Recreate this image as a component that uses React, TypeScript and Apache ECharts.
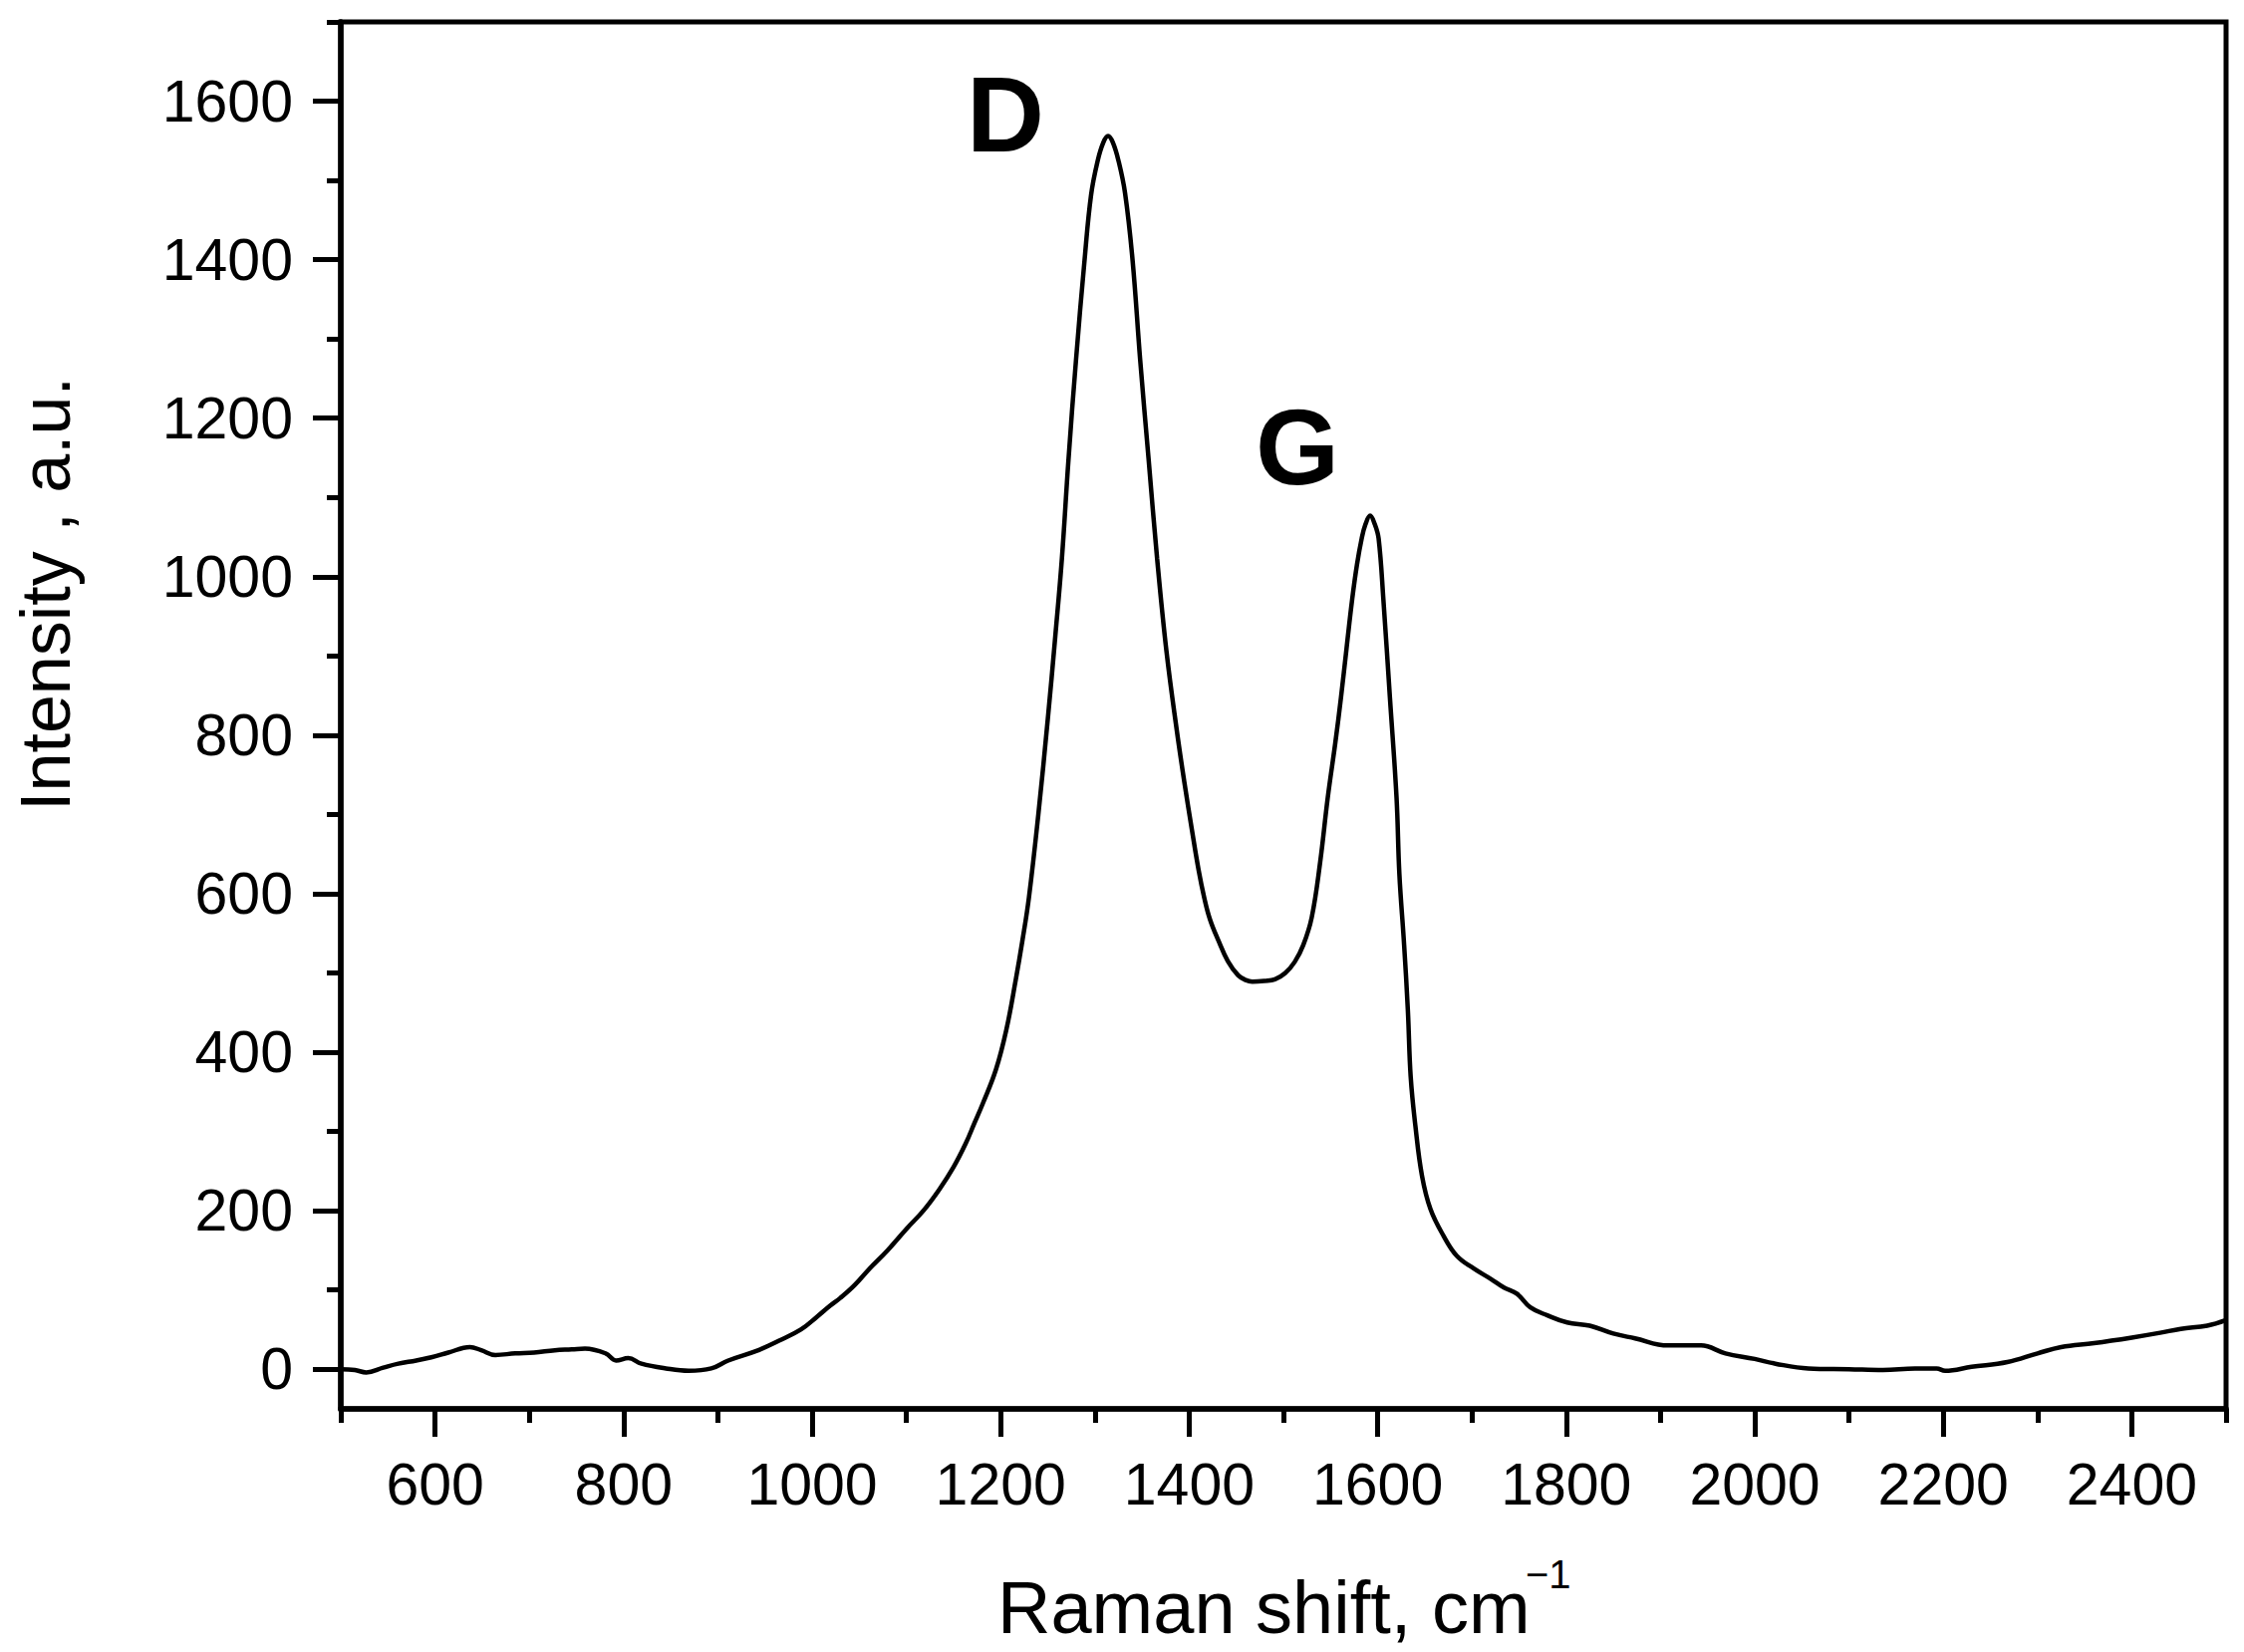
import React, { useEffect, useRef } from "react";
import * as echarts from "echarts";

// Raman shift (cm^-1)
const ramanShift = [
  500, 515, 527, 545, 561, 580, 596, 614, 637, 649, 664, 685, 705, 727, 745, 759,
  781, 792, 805, 819, 845, 869, 893, 911, 943, 965, 988, 1005, 1019, 1030, 1045,
  1061, 1080, 1100, 1118, 1135, 1150, 1163, 1172, 1181, 1195, 1206, 1216, 1223,
  1230, 1240, 1250, 1258, 1265, 1272, 1280, 1289, 1296, 1303, 1309, 1314, 1319,
  1325, 1332, 1340, 1348, 1357, 1366, 1376, 1387, 1395, 1403, 1410, 1416, 1422,
  1431, 1441, 1452, 1460, 1467, 1480, 1491, 1502, 1512, 1521, 1530, 1539, 1547,
  1555, 1561, 1567, 1573, 1578, 1583, 1587, 1592, 1597, 1601, 1606, 1613, 1620,
  1623, 1628, 1632, 1635, 1640, 1647, 1656, 1670, 1684, 1702, 1720, 1734, 1748,
  1762, 1780, 1801, 1825, 1850, 1873, 1908, 1943, 1969, 2000, 2022, 2057, 2100,
  2136, 2170, 2193, 2202, 2230, 2268, 2300, 2325, 2360, 2400, 2430, 2452, 2480,
  2500,
];
// Intensity (a.u.)
const intensity = [
  0, -1, -4, 2, 7, 11, 15, 21, 28, 24, 18, 20, 21, 24, 25, 26,
  20, 11, 14, 7, 1, -2, 1, 11, 24, 36, 50, 66, 80, 90, 106,
  127, 150, 177, 200, 227, 255, 285, 310, 335, 378, 428, 491, 540,
  595, 700, 820, 925, 1023, 1148, 1274, 1399, 1482, 1525, 1548, 1556, 1548,
  1525, 1484, 1399, 1274, 1148, 1023, 905, 805, 740, 680, 630, 595, 568,
  541, 515, 497, 491, 489, 490, 492, 500, 514, 535, 570, 640, 721,
  790, 847, 910, 972, 1015, 1048, 1066, 1077, 1066, 1048, 972, 847, 721,
  625, 536, 453, 369, 307, 244, 202, 168, 143, 127, 114, 103, 95,
  78, 68, 59, 55, 45, 39, 30, 30, 20, 13, 7, 1, 0,
  -1, 1, 1, -2, 3, 9, 20, 28, 33, 40, 46, 51, 55,
  62,
];

const xMajorTicks = [600, 800, 1000, 1200, 1400, 1600, 1800, 2000, 2200, 2400];
const xMinorTicks = [500, 700, 900, 1100, 1300, 1500, 1700, 1900, 2100, 2300, 2500];
const yMajorTicks = [0, 200, 400, 600, 800, 1000, 1200, 1400, 1600];
const yMinorTicks = [100, 300, 500, 700, 900, 1100, 1300, 1500, 1700];

const xTitle = "Raman shift, cm";
const xTitleSup = "\u22121";
const yTitle = "Intensity , a.u.";
const peakLabels = ["D", "G"];

const FONT = "'Liberation Sans', Arial, Helvetica, sans-serif";

export default function App() {
  const ref = useRef<HTMLDivElement>(null);

  useEffect(() => {
    document.body.style.margin = "0";
    if (!ref.current) return;
    const chart = echarts.init(ref.current, undefined, { renderer: "svg" });
    const data = ramanShift.map((x, i) => [x, intensity[i]]);
    const axisCommon = {
      type: "value" as const,
      splitLine: { show: false },
    };
    const fmt = (v: number) => String(v);
    chart.setOption({
      animation: false,
      backgroundColor: "#ffffff",
      grid: {
        left: 342,
        right: 18,
        top: 22,
        bottom: 244,
        show: true,
        borderColor: "#000",
        borderWidth: 5,
        backgroundColor: "transparent",
      },
      xAxis: [
        {
          ...axisCommon,
          min: 500,
          max: 2500,
          position: "bottom",
          axisLine: { show: true, onZero: false, lineStyle: { color: "#000", width: 5.5 } },
          axisTick: {
            show: true,
            customValues: xMajorTicks,
            length: 28,
            inside: false,
            lineStyle: { color: "#000", width: 5 },
          },
          axisLabel: {
            customValues: xMajorTicks,
            formatter: fmt,
            fontSize: 59,
            color: "#000",
            fontFamily: FONT,
            margin: 46,
          },
        },
        {
          ...axisCommon,
          min: 500,
          max: 2500,
          position: "bottom",
          axisLine: { show: false, onZero: false },
          axisTick: {
            show: true,
            customValues: xMinorTicks,
            length: 14,
            inside: false,
            lineStyle: { color: "#000", width: 5 },
          },
          axisLabel: { show: false },
        },
      ],
      yAxis: [
        {
          ...axisCommon,
          min: -50,
          max: 1700,
          position: "left",
          axisLine: { show: true, onZero: false, lineStyle: { color: "#000", width: 5.5 } },
          axisTick: {
            show: true,
            customValues: yMajorTicks,
            length: 28,
            inside: false,
            lineStyle: { color: "#000", width: 5 },
          },
          axisLabel: {
            customValues: yMajorTicks,
            formatter: fmt,
            fontSize: 59,
            color: "#000",
            fontFamily: FONT,
            margin: 48,
          },
        },
        {
          ...axisCommon,
          min: -50,
          max: 1700,
          position: "left",
          axisLine: { show: false, onZero: false },
          axisTick: {
            show: true,
            customValues: yMinorTicks,
            length: 14,
            inside: false,
            lineStyle: { color: "#000", width: 5 },
          },
          axisLabel: { show: false },
        },
      ],
      series: [
        {
          type: "line",
          xAxisIndex: 0,
          yAxisIndex: 0,
          data,
          showSymbol: false,
          smooth: 0.4,
          lineStyle: { color: "#000", width: 4.5 },
          silent: true,
        },
      ],
      graphic: [
        {
          type: "text",
          left: 1001,
          top: 1576,
          style: {
            text: xTitle,
            fill: "#000",
            fontSize: 74,
            fontFamily: FONT,
          },
        },
        {
          type: "text",
          left: 1531,
          top: 1560,
          style: {
            text: xTitleSup,
            fill: "#000",
            fontSize: 40,
            fontFamily: FONT,
          },
        },
        {
          type: "text",
          x: 46,
          y: 596,
          rotation: Math.PI / 2,
          style: {
            text: yTitle,
            fill: "#000",
            fontSize: 70,
            fontFamily: FONT,
            align: "center",
            verticalAlign: "middle",
          },
        },
        {
          type: "text",
          x: 970,
          y: 114,
          style: {
            text: peakLabels[0],
            fill: "#000",
            fontSize: 108,
            fontWeight: "bold",
            fontFamily: FONT,
            align: "left",
            verticalAlign: "middle",
          },
        },
        {
          type: "text",
          x: 1260,
          y: 448,
          style: {
            text: peakLabels[1],
            fill: "#000",
            fontSize: 108,
            fontWeight: "bold",
            fontFamily: FONT,
            align: "left",
            verticalAlign: "middle",
          },
        },
      ],
    });
    return () => chart.dispose();
  }, []);

  return <div ref={ref} style={{ width: 2252, height: 1658 }} />;
}
